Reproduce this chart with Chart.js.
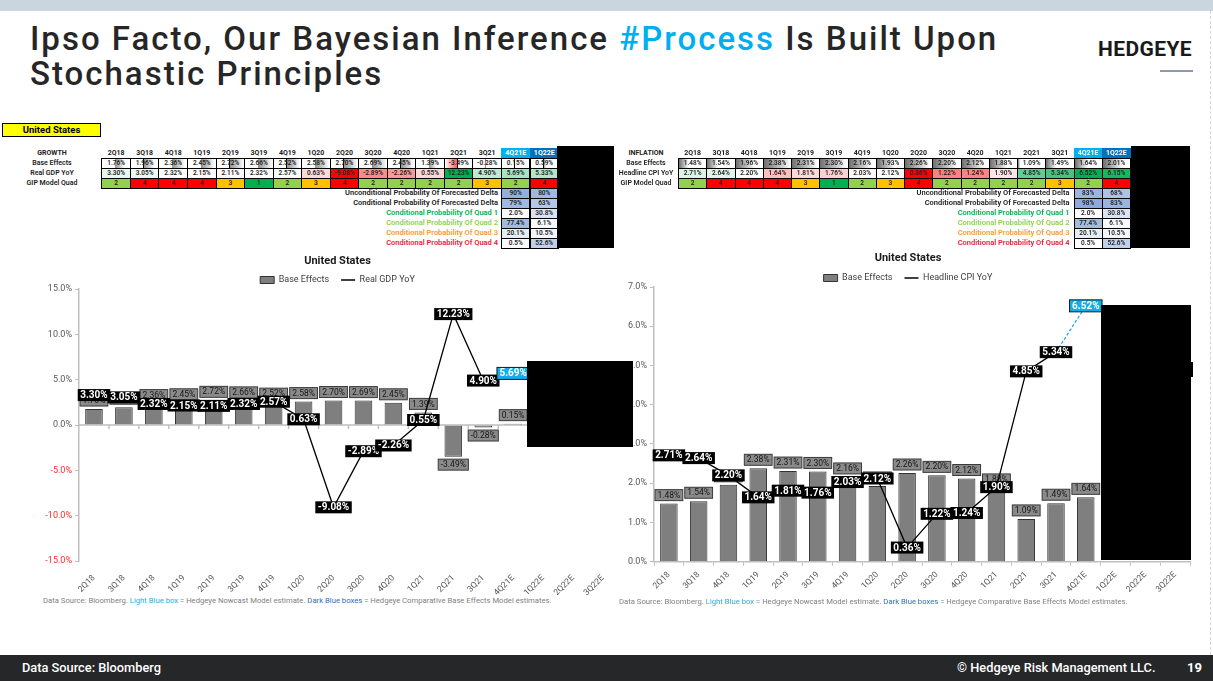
<!DOCTYPE html>
<html>
<head>
<meta charset="utf-8">
<title>Bayesian Inference Process</title>
<script src="https://cdn.jsdelivr.net/npm/chart.js@4.4.1/dist/chart.umd.min.js"></script>
<style>
  html, body { margin: 0; padding: 0; }
  body { width: 1213px; height: 681px; position: relative; overflow: hidden; background: #fff; font-family: Roboto, "Noto Sans", sans-serif; }
  #topbar { position: absolute; left: 0; top: 0; width: 1213px; height: 11px; background: #cad6df; }
  #title { position: absolute; left: 30px; top: 21px; font-size: 33px; line-height: 35px; font-weight: 500; letter-spacing: 2px; color: #262626; white-space: nowrap; }
  #title span { color: #00aeef; }
  #logo { position: absolute; left: 1098px; top: 39px; font-size: 21px; line-height: 21px; font-weight: 700; color: #1a1a1a; letter-spacing: 0.4px; }
  #logoline { position: absolute; left: 1160px; top: 70px; width: 33px; height: 2px; background: #8e9aab; }
  #edge { position: absolute; left: 1210px; top: 11px; height: 644px; border-left: 1px dashed #d4d4d4; }
  #footer { position: absolute; left: 0; top: 655px; width: 1213px; height: 26px; background: #262729; color: #fff; font-size: 12.8px; line-height: 26px; font-weight: 500; }
  #footer div { position: absolute; top: 0; white-space: nowrap; }
  #country { position: absolute; left: 2px; top: 123px; width: 99px; height: 14px; box-sizing: border-box; background: #ffff00; border: 1px solid #000; font-size: 9.5px; font-weight: 700; line-height: 12px; text-align: center; }
  .cell { position: absolute; box-sizing: border-box; text-align: center; white-space: nowrap; font-size: 6.5px; font-weight: 600; color: #222; line-height: 9px; }
  .lbl { position: absolute; white-space: nowrap; font-size: 7px; font-weight: 600; color: #222; line-height: 10px; }
  .note { position: absolute; white-space: nowrap; font-size: 7.7px; line-height: 9px; color: #7f7f7f; }
  .redact { position: absolute; background: #000; z-index: 5; }
  .chartbox { position: absolute; }
</style>
</head>
<body>
<div id="topbar"></div>
<div id="title">Ipso Facto, Our Bayesian Inference <span>#Process</span> Is Built Upon<br>Stochastic Principles</div>
<div id="logo">HEDGEYE</div>
<div id="logoline"></div>
<div id="edge"></div>
<div id="country">United States</div>

<div class="chartbox" style="left:0px;top:250px;width:675px;height:345px;"><canvas id="gdpChart"></canvas></div>
<div class="chartbox" style="left:610px;top:248px;width:596px;height:348px;"><canvas id="cpiChart"></canvas></div>

<div class="note" style="left:43px;top:595.5px;">Data Source: Bloomberg. <span style="color:#29abe2">Light Blue box</span> = Hedgeye Nowcast Model estimate. <span style="color:#2e6fb8">Dark Blue boxes</span> = Hedgeye Comparative Base Effects Model estimates.</div>
<div class="note" style="left:619px;top:597px;">Data Source: Bloomberg. <span style="color:#29abe2">Light Blue box</span> = Hedgeye Nowcast Model estimate. <span style="color:#2e6fb8">Dark Blue boxes</span> = Hedgeye Comparative Base Effects Model estimates.</div>

<div class="redact" style="left:557px;top:146px;width:57px;height:102px;"></div>
<div class="redact" style="left:1131px;top:146px;width:59px;height:102px;"></div>
<div class="redact" style="left:527px;top:361px;width:106px;height:86px;"></div>
<div class="redact" style="left:1101px;top:305px;width:90px;height:255px;"></div>
<div class="redact" style="left:1190px;top:362px;width:3px;height:15px;"></div>

<div id="footer">
  <div style="left:22px;">Data Source: Bloomberg</div>
  <div style="left:957px;">© Hedgeye Risk Management LLC.</div>
  <div style="left:1187px;font-weight:700;font-size:13px;">19</div>
</div>

<script>
var quarters = ['2Q18', '3Q18', '4Q18', '1Q19', '2Q19', '3Q19', '4Q19', '1Q20', '2Q20', '3Q20', '4Q20', '1Q21', '2Q21', '3Q21', '4Q21E', '1Q22E'];
var chartQuarters = quarters.concat(['2Q22E', '3Q22E']);

var gdpBase = [1.76, 1.96, 2.36, 2.45, 2.72, 2.66, 2.52, 2.58, 2.70, 2.69, 2.45, 1.39, -3.49, -0.28, 0.15, 0.59];
var gdpYoY = [3.30, 3.05, 2.32, 2.15, 2.11, 2.32, 2.57, 0.63, -9.08, -2.89, -2.26, 0.55, 12.23, 4.90, 5.69, 5.33];
var gdpQuad = [2, 4, 4, 4, 3, 1, 2, 3, 4, 2, 2, 2, 2, 3, 2, 4];

var cpiBase = [1.48, 1.54, 1.96, 2.38, 2.31, 2.30, 2.16, 1.93, 2.26, 2.20, 2.12, 1.88, 1.09, 1.49, 1.64, 2.01];
var cpiYoY = [2.71, 2.64, 2.20, 1.64, 1.81, 1.76, 2.03, 2.12, 0.36, 1.22, 1.24, 1.90, 4.85, 5.34, 6.52, 6.15];
var cpiQuad = [2, 4, 4, 4, 3, 1, 2, 3, 4, 2, 2, 2, 2, 3, 2, 4];

var probLabels = ['Unconditional Probability Of Forecasted Delta', 'Conditional Probability Of Forecasted Delta',
  'Conditional Probability Of Quad 1', 'Conditional Probability Of Quad 2',
  'Conditional Probability Of Quad 3', 'Conditional Probability Of Quad 4'];
var gdpProbNow = [90, 79, 2.0, 77.4, 20.1, 0.5];
var gdpProbNext = [80, 63, 30.8, 6.1, 10.5, 52.6];
var cpiProbNow = [83, 98, 2.0, 77.4, 20.1, 0.5];
var cpiProbNext = [68, 83, 30.8, 6.1, 10.5, 52.6];

var gdpRange = [-15, 15, 5];
var cpiRange = [0, 7, 1];

var nowcastIdx = quarters.indexOf('4Q21E');
var quadColors = { 1: '#00b050', 2: '#92d050', 3: '#ffc000', 4: '#ff0000' };
var probLabelColors = ['#222', '#222', '#00b050', '#92d050', '#f79a2e', '#ee1c3a'];

function put(cls, x, y, w, h, text, style) {
  var d = document.createElement('div');
  d.className = cls;
  d.style.left = x + 'px';
  d.style.top = y + 'px';
  if (w) d.style.width = w + 'px';
  if (h) d.style.height = h + 'px';
  d.textContent = text;
  if (style) for (var k in style) d.style[k] = style[k];
  document.body.appendChild(d);
  return d;
}

function mix(a, b, t) {
  t = Math.max(0, Math.min(1, t));
  return 'rgb(' + [0, 1, 2].map(function(i) { return Math.round(a[i] + (b[i] - a[i]) * t) }).join(',') + ')';
}

function median(arr) {
  var s = arr.slice().sort(function(a, b) { return a - b });
  var m = Math.floor(s.length / 2);
  return s.length % 2 ? s[m] : (s[m - 1] + s[m]) / 2;
}

function redGreen(arr) {
  var lo = Math.min.apply(null, arr), hi = Math.max.apply(null, arr), mid = median(arr);
  return function(v) {
    if (v >= mid) return mix([255, 255, 255], [0, 176, 80], (v - mid) / (hi - mid));
    return mix([255, 255, 255], [255, 0, 0], (mid - v) / (mid - lo));
  };
}

function blueScale(v) {
  return mix([255, 255, 255], [142, 170, 219], v / 95);
}

// data bars with an axis (growth base effects)
function axisBar(arr) {
  var hi = Math.max.apply(null, arr), lo = Math.min.apply(null, arr);
  return function(v) {
    var ax = 45;
    var line = 'linear-gradient(to right, transparent ' + ax + '%, #000 ' + ax + '%, #000 ' + (ax + 3) + '%, transparent ' + (ax + 3) + '%)';
    if (v >= 0) {
      var end = ax + (100 - ax) * v / hi;
      return line + ', linear-gradient(to right, #fff 0%, #fff ' + ax + '%, #8c8c8c ' + ax + '%, #fff ' + end + '%, #fff 100%)';
    }
    var start = ax - ax * v / lo;
    return line + ', linear-gradient(to right, #fff 0%, #fff ' + start + '%, #ff5a5a ' + ax + '%, #fff ' + ax + '%, #fff 100%)';
  };
}

// data bars from the left (inflation base effects)
function leftBar(arr) {
  var hi = Math.max.apply(null, arr), lo = Math.min.apply(null, arr);
  return function(v) {
    var end = 8 + 92 * (v - lo) / (hi - lo);
    return 'linear-gradient(to right, #6e6e6e 0%, #fff ' + end + '%, #fff 100%)';
  };
}

function buildTable(t) {
  var top = 147.7, rh = 10;
  put('lbl', t.labelX, top, t.labelW, rh, t.title, { textAlign: 'center', fontWeight: 700 });
  t.rowNames.forEach(function(name, r) {
    put('lbl', t.labelX, top + rh * (r + 1), t.labelW, rh, name, { textAlign: 'center' });
  });
  var yoyColor = redGreen(t.yoy);
  quarters.forEach(function(q, i) {
    var x = t.x0 + i * t.cw;
    var hs = { fontWeight: 700, fontSize: '7px', lineHeight: rh + 'px' };
    if (i === nowcastIdx) { hs.background = '#00b0f0'; hs.color = '#fff'; }
    if (i > nowcastIdx) { hs.background = '#0070c0'; hs.color = '#fff'; }
    put('cell', x, top, t.cw + 1, rh, q, hs);
    put('cell', x, top + rh, t.cw + 1, rh + 1, t.base[i].toFixed(2) + '%',
      { border: '1px solid #000', background: t.baseFill(t.base[i]) });
    put('cell', x, top + rh * 2, t.cw + 1, rh + 1, t.yoy[i].toFixed(2) + '%',
      { border: '1px solid #000', background: yoyColor(t.yoy[i]) });
    put('cell', x, top + rh * 3, t.cw + 1, rh + 1, String(t.quad[i]),
      { border: '1px solid #000', background: quadColors[t.quad[i]] });
  });
  probLabels.forEach(function(name, k) {
    var y = top + rh * (4 + k);
    put('lbl', t.probRight - 300, y, 300, rh, name, { textAlign: 'right', color: probLabelColors[k], fontSize: '7.5px' });
    [t.probNow[k], t.probNext[k]].forEach(function(v, j) {
      var txt = k < 2 ? Math.round(v) + '%' : v.toFixed(1) + '%';
      put('cell', t.x0 + (nowcastIdx + j) * t.cw, y, t.cw + 1, rh + 1, txt,
        { border: '1px solid #000', background: blueScale(v) });
    });
  });
}

buildTable({
  title: 'GROWTH', rowNames: ['Base Effects', 'Real GDP YoY', 'GIP Model Quad'],
  x0: 101.4, cw: 28.54, labelX: 4, labelW: 96, probRight: 498,
  base: gdpBase, yoy: gdpYoY, quad: gdpQuad, probNow: gdpProbNow, probNext: gdpProbNext,
  baseFill: axisBar(gdpBase)
});
buildTable({
  title: 'INFLATION', rowNames: ['Base Effects', 'Headline CPI YoY', 'GIP Model Quad'],
  x0: 678, cw: 28.25, labelX: 614, labelW: 64, probRight: 1069.5,
  base: cpiBase, yoy: cpiYoY, quad: cpiQuad, probNow: cpiProbNow, probNext: cpiProbNext,
  baseFill: leftBar(cpiBase)
});

// ---- charts ----
Chart.defaults.font.family = 'Roboto, "Noto Sans", sans-serif';

function drawBox(ctx, text, x, y, h, fill, stroke, color) {
  var w = ctx.measureText(text).width + 5;
  ctx.fillStyle = fill;
  ctx.fillRect(x - w / 2, y - h / 2, w, h);
  if (stroke) {
    ctx.strokeStyle = stroke;
    ctx.lineWidth = 1;
    ctx.strokeRect(x - w / 2, y - h / 2, w, h);
  }
  ctx.fillStyle = color;
  ctx.fillText(text, x, y + 0.5);
}

var boxLabels = {
  id: 'boxLabels',
  beforeDatasetsDraw: function(chart, args, opts) {
    if (!opts.zeroLine) return;
    var xs = chart.scales.x, ys = chart.scales.y, ctx = chart.ctx;
    var y0 = ys.getPixelForValue(0);
    var n = chart.data.labels.length, step = xs.width / n;
    ctx.save();
    ctx.strokeStyle = '#bfbfbf';
    ctx.lineWidth = 1.5;
    ctx.beginPath();
    ctx.moveTo(xs.left, y0);
    ctx.lineTo(xs.right, y0);
    for (var i = 1; i <= n; i++) {
      ctx.moveTo(xs.left + i * step, y0);
      ctx.lineTo(xs.left + i * step, y0 + 4);
    }
    ctx.stroke();
    ctx.restore();
  },
  afterDatasetDraw: function(chart, args) {
    var ds = chart.data.datasets[args.index];
    if (ds.type !== 'bar') return;
    var ctx = chart.ctx;
    ctx.save();
    ctx.font = '8.5px Roboto, sans-serif';
    ctx.textAlign = 'center';
    ctx.textBaseline = 'middle';
    args.meta.data.forEach(function(el, i) {
      var v = ds.data[i];
      if (v === null || v === undefined) return;
      var y = v >= 0 ? el.y - 8.5 : el.y + 8;
      drawBox(ctx, v.toFixed(2) + '%', el.x, y, 11, '#8a8a8a', '#3a3a3a', '#161616');
    });
    ctx.restore();
  },
  afterDatasetsDraw: function(chart) {
    var ctx = chart.ctx;
    ctx.save();
    ctx.font = 'bold 10px Roboto, sans-serif';
    ctx.textAlign = 'center';
    ctx.textBaseline = 'middle';
    chart.data.datasets.forEach(function(ds, di) {
      if (ds.type !== 'line') return;
      var meta = chart.getDatasetMeta(di);
      meta.data.forEach(function(pt, i) {
        var v = ds.data[i];
        if (v === null || v === undefined) return;
        var fill = i === nowcastIdx ? '#12aee8' : '#000';
        var stroke = i === nowcastIdx ? '#1a1a1a' : null;
        drawBox(ctx, v.toFixed(2) + '%', pt.x, pt.y, 12, fill, stroke, '#fff');
      });
    });
    ctx.restore();
  }
};

// the charts show values through the nowcast quarter; later quarters stay empty
function upToNowcast(arr) {
  return chartQuarters.map(function(q, i) { return i <= nowcastIdx ? arr[i] : null });
}

function makeChart(id, cfg) {
  var ctx = document.getElementById(id).getContext('2d');
  return new Chart(ctx, {
    type: 'bar',
    plugins: [boxLabels],
    data: {
      labels: chartQuarters,
      datasets: [{
        type: 'line',
        label: cfg.lineLabel,
        data: upToNowcast(cfg.line),
        order: 0,
        borderColor: '#000',
        backgroundColor: '#000',
        borderWidth: 1.3,
        pointRadius: 0,
        pointStyle: 'line',
        tension: 0,
        segment: {
          borderColor: function(c) { return c.p1DataIndex >= nowcastIdx ? '#29abe2' : '#000' },
          borderDash: function(c) { return c.p1DataIndex >= nowcastIdx ? [3, 2] : undefined }
        }
      }, {
        type: 'bar',
        label: 'Base Effects',
        data: upToNowcast(cfg.bars),
        order: 1,
        backgroundColor: '#7f7f7f',
        borderColor: '#333',
        borderWidth: 1,
        pointStyle: 'rect',
        categoryPercentage: 0.8,
        barPercentage: 0.735
      }]
    },
    options: {
      responsive: true,
      maintainAspectRatio: false,
      animation: false,
      layout: { padding: 0 },
      plugins: {
        boxLabels: { zeroLine: cfg.zeroLine },
        tooltip: { enabled: false },
        title: {
          display: true,
          text: 'United States',
          color: '#1a1a1a',
          font: { size: 11, weight: 'bold' },
          padding: { top: cfg.titleTop, bottom: cfg.titleBottom }
        },
        legend: {
          display: true,
          maxHeight: cfg.legendHeight,
          reverse: true,
          labels: {
            usePointStyle: true,
            pointStyleWidth: 14,
            boxHeight: 7,
            padding: 12,
            color: '#404040',
            font: { size: 9 }
          }
        }
      },
      scales: {
        x: {
          afterFit: function(s) { s.height = cfg.xHeight },
          border: { display: !cfg.zeroLine, color: '#bfbfbf', width: 1.5 },
          grid: { display: !cfg.zeroLine, drawOnChartArea: false, drawTicks: true, tickLength: 4, color: '#bfbfbf', offset: true },
          ticks: { autoSkip: false, maxRotation: 45, minRotation: 45, color: '#595959', font: { size: 8.5 }, padding: cfg.zeroLine ? 8 : 4 }
        },
        y: {
          min: cfg.range[0],
          max: cfg.range[1],
          afterFit: function(s) { s.width = cfg.yWidth },
          border: { display: true, color: '#bfbfbf', width: 1.5 },
          grid: { drawOnChartArea: false, drawTicks: true, tickLength: 4, color: '#bfbfbf' },
          ticks: {
            stepSize: cfg.range[2],
            padding: 3,
            font: { size: 9 },
            color: function(c) { return c.tick && c.tick.value < 0 ? '#ff2a2a' : '#595959' },
            callback: function(v) { return v.toFixed(1) + '%' }
          }
        },
        yPad: {
          position: 'right',
          display: true,
          afterFit: function(s) { s.width = cfg.rightPad },
          border: { display: false },
          grid: { display: false },
          ticks: { display: false }
        }
      }
    }
  });
}

makeChart('gdpChart', {
  bars: gdpBase, line: gdpYoY, lineLabel: 'Real GDP YoY', range: gdpRange, zeroLine: true,
  titleTop: 5, titleBottom: -4.7, legendHeight: 25.5, xHeight: 34, yWidth: 79, rightPad: 57
});
makeChart('cpiChart', {
  bars: cpiBase, line: cpiYoY, lineLabel: 'Headline CPI YoY', range: cpiRange, zeroLine: false,
  titleTop: 4, titleBottom: -3.7, legendHeight: 25.5, xHeight: 34.3, yWidth: 44, rightPad: 16
});
</script>
</body>
</html>
